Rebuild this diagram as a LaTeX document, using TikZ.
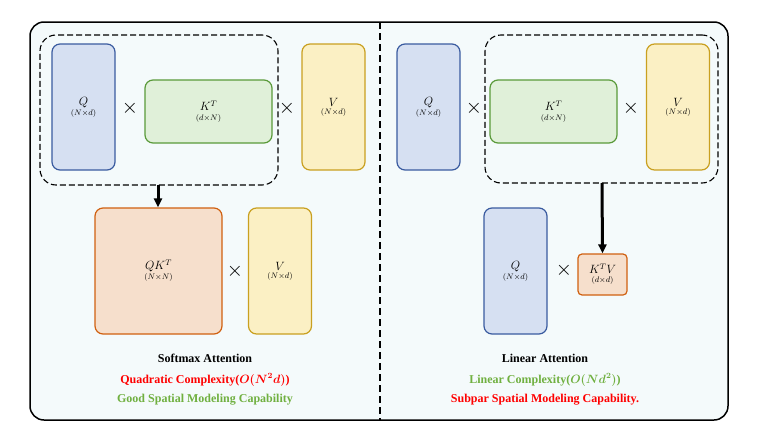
\documentclass[tikz,border=0pt]{standalone}
\usepackage{fontspec}
\setmainfont{Liberation Serif}
\usepackage{amsmath}
\usetikzlibrary{arrows.meta}
\definecolor{qfill}{HTML}{D6E0F2}\definecolor{qdraw}{HTML}{3A5BA0}
\definecolor{kfill}{HTML}{E0F0D9}\definecolor{kdraw}{HTML}{5A9A3A}
\definecolor{vfill}{HTML}{FBF0C4}\definecolor{vdraw}{HTML}{C9A020}
\definecolor{ofill}{HTML}{F6DFCC}\definecolor{odraw}{HTML}{D06010}
\definecolor{bgc}{HTML}{F4FAFB}\definecolor{gtxt}{HTML}{70B040}
\begin{document}
\begin{tikzpicture}[x=1pt,y=-1pt,
  mat/.style={draw,line width=1.2pt,rounded corners=8pt,align=center,inner sep=0pt,font=\large},
  qm/.style={mat,fill=qfill,draw=qdraw,minimum width=63pt,minimum height=126pt},
  km/.style={mat,fill=kfill,draw=kdraw,minimum width=127pt,minimum height=63pt},
  vm/.style={mat,fill=vfill,draw=vdraw,minimum width=63pt,minimum height=126pt},
  times/.style={font=\huge},
  grp/.style={draw,dash pattern=on 6pt off 3pt,line width=1.1pt,rounded corners=16pt},
  big/.style={-{Triangle[length=9pt,width=8pt]},line width=3pt},
  captxt/.style={font=\large\bfseries,align=center}]
\useasboundingbox (0,0) rectangle (777,434);
\draw[line width=1.5pt,fill=bgc,rounded corners=14pt] (30,22) rectangle (728,420);
\draw[dash pattern=on 7pt off 4pt,line width=1.5pt] (380,22) -- (380,420);
% left
\node[grp,minimum width=238pt,minimum height=150pt] (gl) at (159,110) {};
\node[qm] (q1) at (83.5,107) {$Q$\\[-4pt]$\scriptstyle(N\times d)$};
\node[times] at (130,108) {$\times$};
\node[km] (k1) at (208.5,111.5) {$K^T$\\[-4pt]$\scriptstyle(d\times N)$};
\node[times] at (287,108) {$\times$};
\node[vm] (v1) at (333.5,107) {$\LARGE V$\\[-6pt]$\scriptstyle(N\times d)$};
\node[mat,fill=ofill,draw=odraw,minimum width=127pt,minimum height=126pt] (qk) at (158.5,271) {$QK^T$\\[-4pt]$\scriptstyle(N\times N)$};
\node[times] at (235,271) {$\times$};
\node[vm] (v2) at (280,271) {$\LARGE V$\\[-6pt]$\scriptstyle(N\times d)$};
\coordinate (a1) at (158,185);
\draw[big] (a1) -- (qk.north -| a1);
\node[captxt] (s1) at (205,358) {Softmax Attention};
\node[captxt,text=red] (s2) at (205,380) {Quadratic Complexity($\boldsymbol{O(N^2d)}$)};
\node[captxt,text=gtxt] (s3) at (205,400) {Good Spatial Modeling Capability};
% right
\node[grp,minimum width=233pt,minimum height=148pt] (gr) at (601.5,109) {};
\node[qm] (q2) at (428.5,107) {$Q$\\[-4pt]$\scriptstyle(N\times d)$};
\node[times] at (474,108) {$\times$};
\node[km] (k2) at (553.5,111.5) {$K^T$\\[-4pt]$\scriptstyle(d\times N)$};
\node[times] at (631,108) {$\times$};
\node[vm] (v3) at (678,107) {$\LARGE V$\\[-6pt]$\scriptstyle(N\times d)$};
\node[qm] (q3) at (515.5,271) {$Q$\\[-4pt]$\scriptstyle(N\times d)$};
\node[times] at (564,270) {$\times$};
\node[mat,fill=ofill,draw=odraw,rounded corners=4pt,minimum width=49pt,minimum height=41pt] (kv) at (602.5,274.5) {$K^TV$\\[-5pt]$\scriptstyle(d\times d)$};
\coordinate (a2) at (602,183);
\draw[big] (a2) -- (kv.north);
\node[captxt] (r1) at (545,358) {Linear Attention};
\node[captxt,text=gtxt] (r2) at (545,380) {Linear Complexity($\boldsymbol{O(Nd^2)}$)};
\node[captxt,text=red] (r3) at (545,400) {Subpar Spatial Modeling Capability.};
\end{tikzpicture}
\end{document}
